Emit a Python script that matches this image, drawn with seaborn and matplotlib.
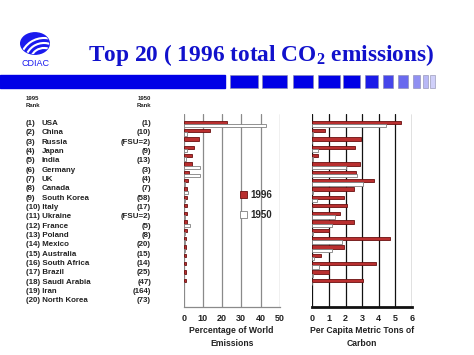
import matplotlib
matplotlib.use('Agg')
import matplotlib.pyplot as plt
from matplotlib.patches import Rectangle, Circle, Arc
import seaborn as sns
import pandas as pd

# 数据: 1996 排名前20国家
countries = ['USA', 'China', 'Russia', 'Japan', 'India', 'Germany', 'UK', 'Canada',
             'South Korea', 'Italy', 'Ukraine', 'France', 'Poland', 'Mexico',
             'Australia', 'South Africa', 'Brazil', 'Saudi Arabia', 'Iran', 'North Korea']
rank_1950 = ['(1)', '(10)', '(FSU=2)', '(9)', '(13)', '(3)', '(4)', '(7)', '(58)', '(17)',
             '(FSU=2)', '(5)', '(8)', '(20)', '(15)', '(14)', '(25)', '(47)', '(164)', '(73)']

pct_1996 = [22.4, 13.9, 8.0, 5.2, 4.3, 4.2, 2.6, 2.0, 1.9, 1.8,
            1.7, 1.6, 1.6, 1.5, 1.4, 1.3, 1.3, 1.2, 1.2, 1.1]
pct_1950 = [42.7, 1.7, 0, 1.7, 1.4, 8.7, 8.7, 0.6, 2.4, 0.6,
            0, 0.8, 3.5, 0.5, 0.9, 0.9, 0.3, 0.1, 0.1, 0]

percap_1996 = [5.33, 0.78, 2.92, 2.56, 0.32, 2.88, 2.60, 3.74, 2.48, 1.90,
               2.08, 1.68, 2.52, 1.02, 4.66, 1.90, 0.50, 3.84, 1.02, 3.08]
percap_1950 = [4.42, 0.05, 0, 0.32, 0.05, 2.02, 2.70, 3.06, 0.05, 0.26,
               0, 1.34, 1.20, 0.02, 1.80, 1.20, 0.12, 0.42, 0.02, 0]

years = ['1996', '1950']

W, H = 474, 355
sns.set_style('white')
plt.rcParams['font.family'] = ['Liberation Sans', 'DejaVu Sans']
plt.rcParams['mathtext.fontset'] = 'custom'
plt.rcParams['mathtext.rm'] = 'Liberation Serif:bold'

fig = plt.figure(figsize=(W / 100, H / 100), dpi=100)


def fx(x):
    return x / W


def fy(y):
    return 1 - y / H


# logo
logo = Circle((fx(35), fy(43.5)), 14.3 / W, transform=fig.transFigure, color='#1a1aee')
fig.patches.append(logo)
for r in [14, 19, 24]:
    a = Arc((fx(44), fy(62)), 2 * r / W, 2 * r / H, theta1=60, theta2=200,
            transform=fig.transFigure, color='white', lw=1.5)
    a.set_clip_path(logo)
    fig.patches.append(a)
fig.text(fx(35), fy(64), 'CDIAC', color='#1a1aee', fontsize=6.5, ha='center', va='center',
         fontstretch='condensed')

# 标题
fig.text(fx(261), fy(55), r'Top 20 ( 1996 total CO$_\mathrm{2}$ emissions)', color='#1111cc',
         fontsize=16.8, fontweight='bold', family='Liberation Serif', ha='center', va='center')

# 蓝色条带
band_y0, band_y1 = 75, 88
fig.patches.append(Rectangle((0, fy(band_y1)), fx(225), (band_y1 - band_y0) / H,
                             transform=fig.transFigure, color='#0000e6'))
squares = [(230, 258, '#0000e6'), (262, 287, '#0000e6'), (293, 313, '#0000e6'),
           (318, 340, '#0000e6'), (343, 360, '#0000e6'), (365, 378, '#1a1ae8'),
           (383, 393, '#4545ea'), (398, 408, '#6a6aee'), (413, 420, '#9090f2'),
           (423, 428, '#b8b8f6'), (430, 435, '#d0d0fa')]
for x0, x1, c in squares:
    fig.patches.append(Rectangle((fx(x0), fy(band_y1)), (x1 - x0) / W, (band_y1 - band_y0) / H,
                                 transform=fig.transFigure, facecolor=c, edgecolor='#8888aa', lw=0.4))

# 排名列表
txt_c = '#222222'
fig.text(fx(25.5), fy(98.5), '1995', fontsize=4.3, fontweight='bold', va='center', color=txt_c)
fig.text(fx(25.5), fy(105.7), 'Rank', fontsize=4.3, fontweight='bold', va='center', color=txt_c)
fig.text(fx(151), fy(98.5), '1950', fontsize=4.3, fontweight='bold', va='center', ha='right', color=txt_c)
fig.text(fx(151), fy(105.7), 'Rank', fontsize=4.3, fontweight='bold', va='center', ha='right', color=txt_c)
for i, name in enumerate(countries):
    y = 123.3 + 9.35 * i
    if i < 9:
        fig.text(fx(25.5), fy(y), f'({i + 1})', fontsize=5.7, va='center', fontweight='bold', color=txt_c)
        fig.text(fx(41.7), fy(y), name, fontsize=5.7, va='center', fontweight='bold', color=txt_c)
    else:
        fig.text(fx(25.5), fy(y), f'({i + 1}) {name}', fontsize=5.7, va='center', fontweight='bold', color=txt_c)
    fig.text(fx(151), fy(y), rank_1950[i], fontsize=5.7, va='center', ha='right', fontweight='bold', color=txt_c)

ax_top, ax_bot = 114, 307
axL = fig.add_axes([fx(183.7), fy(ax_bot), 96 / W, (ax_bot - ax_top) / H])
axR = fig.add_axes([fx(312.3), fy(ax_bot), 99.7 / W, (ax_bot - ax_top) / H])

palette = {'1996': '#d01818', '1950': 'white'}
edges = {'1996': '#6a1010', '1950': '#808080'}

df_pct = pd.DataFrame({'country': countries * 2,
                       'year': ['1996'] * 20 + ['1950'] * 20,
                       'value': pct_1996 + pct_1950})
df_cap = pd.DataFrame({'country': countries * 2,
                       'year': ['1996'] * 20 + ['1950'] * 20,
                       'value': percap_1996 + percap_1950})

for ax, d, xmax, grid_c, label in [
        (axL, df_pct, 50, '#8a8a8a', 'Percentage of World\nEmissions'),
        (axR, df_cap, 6, '#111111', 'Per Capita Metric Tons of\nCarbon')]:
    sns.barplot(data=d, y='country', x='value', hue='year', hue_order=years,
                palette=palette, orient='h', ax=ax, width=0.8, zorder=3)
    for cont, yr in zip(ax.containers, years):
        for p in cont:
            p.set_edgecolor(edges[yr])
            p.set_linewidth(0.6)
    ax.set_xlim(0, xmax)
    ax.set_ylim(22.0, -1.2)
    ax.set_yticks([])
    ax.set_ylabel('')
    step = 10 if xmax == 50 else 1
    ax.set_xticks(range(0, xmax + 1, step))
    ax.xaxis.grid(True, color=grid_c, lw=0.9, zorder=0)
    for s in ['top', 'left', 'right']:
        ax.spines[s].set_visible(False)
    ax.tick_params(axis='x', length=0, pad=5, labelsize=6.5, labelcolor=txt_c)
    for t in ax.get_xticklabels():
        t.set_fontweight('bold')
    ax.set_xlabel(label, fontsize=6.2, fontweight='bold', linespacing=1.55, labelpad=2, color=txt_c)
    ax.legend_.remove()

axL.spines['bottom'].set_color('#8a8a8a')
axL.spines['bottom'].set_linewidth(0.9)
axR.spines['bottom'].set_color('#111111')
axR.spines['bottom'].set_linewidth(2.0)

# 图例
h, l = axL.get_legend_handles_labels()
leg = fig.legend(h, l, loc='upper left', bbox_to_anchor=(fx(235), fy(185)), frameon=False,
                 handlelength=0.75, handleheight=0.75, handletextpad=0.35, labelspacing=1.0,
                 borderpad=0, prop={'size': 7, 'weight': 'bold'})
for p, yr in zip(leg.get_patches(), years):
    p.set_edgecolor(edges[yr])
    p.set_linewidth(0.6)

fig.savefig('out.png', dpi=100)
